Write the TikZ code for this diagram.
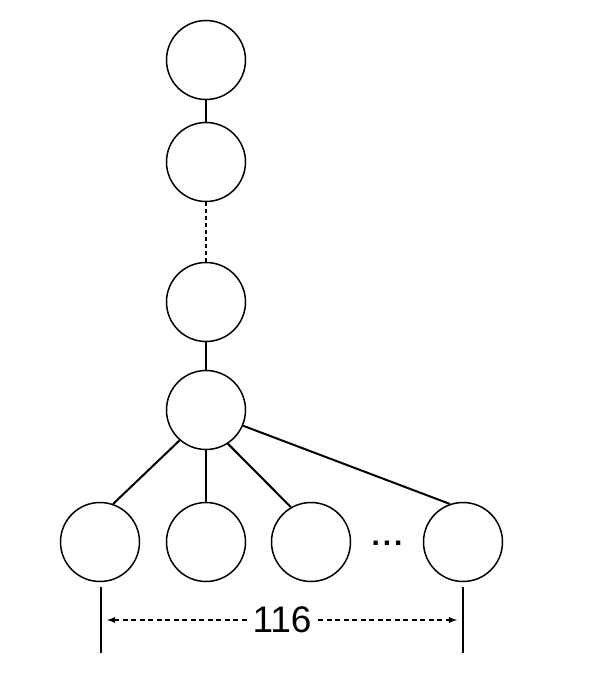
\documentclass[tikz,border=0pt]{standalone}
\usepackage{fontspec}
\setmainfont{Liberation Sans}
\usetikzlibrary{arrows}

\begin{document}
\begin{tikzpicture}[x=1pt,y=-1pt,
		vert/.style={circle, draw=black, line width=1.5pt, minimum size=79pt, inner sep=0pt},
		edge/.style={line width=2pt},
		tick/.style={line width=2pt}]
			\useasboundingbox (0,0) rectangle (613,685);
			\node[vert] (c1) at (206,60) {};
			\node[vert] (c2) at (206,162) {};
			\node[vert] (c3) at (206,302) {};
			\node[vert] (c4) at (206,410) {};
			\node[vert] (d1) at (100,542) {};
			\node[vert] (d2) at (206,542) {};
			\node[vert] (d3) at (311,542) {};
			\node[vert] (d4) at (463,542) {};
			\node[anchor=base, inner sep=0pt] (dots) at (387,545) {\fontsize{30}{30}\selectfont\bfseries .\kern3pt.\kern3pt.};
			\draw[edge] (c1) -- (c2);
			\draw[edge, dash pattern=on 4pt off 3pt] (c2) -- (c3);
			\draw[edge] (c3) -- (c4);
			\draw[edge] (c4.-131) -- (d1.71);
			\draw[edge] (c4) -- (d2);
			\draw[edge] (c4.-57) -- (d3.120);
			\draw[edge] (c4.-23) -- (d4.109);
			% dimension
			\coordinate (l1) at (101,587);
			\coordinate (l2) at (101,653);
			\coordinate (r1) at (463,587);
			\coordinate (r2) at (463,653);
			\draw[tick] (l1) -- (l2);
			\draw[tick] (r1) -- (r2);
			\coordinate (a) at (101,620);
			\coordinate (b) at (463,620);
			\draw[line width=1.8pt, dash pattern=on 5pt off 3.5pt, latex-latex, shorten <=6pt, shorten >=6pt] (a) -- (b)
				node[pos=0.5, fill=white, inner sep=6pt] (len) {\fontsize{37}{37}\selectfont 116};
		\end{tikzpicture}
\end{document}
